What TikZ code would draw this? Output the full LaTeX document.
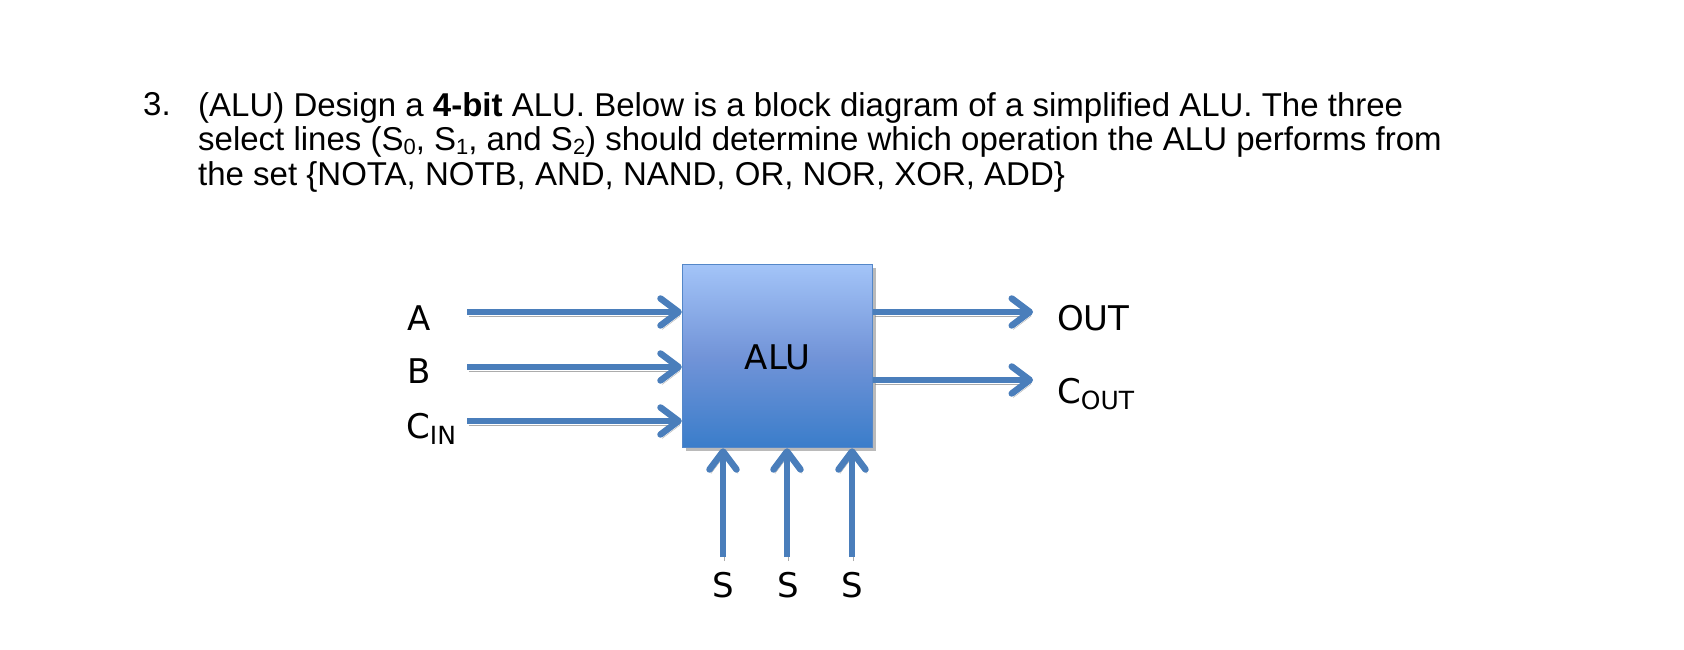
\documentclass[tikz,border=0pt]{standalone}
\usepackage{fontspec}
\setmainfont{Liberation Sans}
\newfontfamily\djv{DejaVu Sans}
\usetikzlibrary{arrows.meta,shadows}
\definecolor{sigblue}{RGB}{74,126,187}
\definecolor{boxtop}{RGB}{163,196,248}
\definecolor{boxmid}{RGB}{114,148,216}
\definecolor{boxbot}{RGB}{58,125,202}
\definecolor{boxedge}{RGB}{84,135,200}
\tikzset{
  sig/.style={draw=sigblue, line width=6.5pt,
    -{Straight Barb[length=18pt,width=27pt,round]},
    preaction={draw=black!50, opacity=0.65,
      transform canvas={shift={(1.5pt,-4pt)}}}},
  lbl/.style={font=\djv\fontsize{34}{40}\selectfont, inner sep=0pt, anchor=base west},
  qtext/.style={font=\fontsize{33}{34.5}\selectfont, inner sep=0pt, anchor=base west},
  alubox/.style={draw=boxedge, line width=1.5pt, top color=boxtop, bottom color=boxbot,
    middle color=boxmid, minimum width=190pt, minimum height=183pt, inner sep=0pt,
    drop shadow={shadow xshift=3pt, shadow yshift=-3.5pt, opacity=0.45, fill=black!60}}
}
\newcommand{\sbs}[1]{\raisebox{-6pt}{\fontsize{25}{25}\selectfont #1}}
\newcommand{\qsub}[1]{\raisebox{-3.5pt}{\fontsize{22}{22}\selectfont #1}}
\begin{document}
\begin{tikzpicture}[x=1pt,y=-1pt]
\useasboundingbox (0,0) rectangle (1684,650);
% question text
\node[qtext] (num) at (143,116) {3.};
\node[qtext, align=left] (q) at (198,185) {(ALU) Design a \textbf{4-bit} ALU. Below is a block diagram of a simplified ALU. The three\\
select lines (S\qsub{0}, S\qsub{1}, and S\qsub{2}) should determine which operation the ALU performs from\\
the set \{NOTA, NOTB, AND, NAND, OR, NOR, XOR, ADD\}};
% ALU block
\node[alubox] (alu) at (777.5,356) {};
\node[lbl, anchor=base] (alutxt) at (777.5,369) {ALU};
% labels
\node[lbl] (la) at (407,330) {A};
\node[lbl] (lb) at (407,383) {B};
\node[lbl] (lc) at (406,438) {C\sbs{IN}};
\node[lbl] (lo) at (1057,330) {OUT};
\node[lbl] (lco) at (1057,403) {C\sbs{OUT}};
\node[lbl, anchor=base] (s0) at (723,597) {S};
\node[lbl, anchor=base] (s1) at (788,597) {S};
\node[lbl, anchor=base] (s2) at (852,597) {S};
% connector end points
\coordinate (ia) at (467,312);
\coordinate (ib) at (467,367);
\coordinate (ic) at (467,421);
\coordinate (oa) at (1033,312);
\coordinate (ob) at (1033,380);
\coordinate (ba) at (723,557);
\coordinate (bb) at (787,557);
\coordinate (bc) at (852,557);
% connectors
\draw[sig] (ia) -- (ia -| alu.west);
\draw[sig] (ib) -- (ib -| alu.west);
\draw[sig] (ic) -- (ic -| alu.west);
\draw[sig] (oa -| alu.east) -- (oa);
\draw[sig] (ob -| alu.east) -- (ob);
\draw[sig] (ba) -- (ba |- alu.south);
\draw[sig] (bb) -- (bb |- alu.south);
\draw[sig] (bc) -- (bc |- alu.south);
\end{tikzpicture}
\end{document}
